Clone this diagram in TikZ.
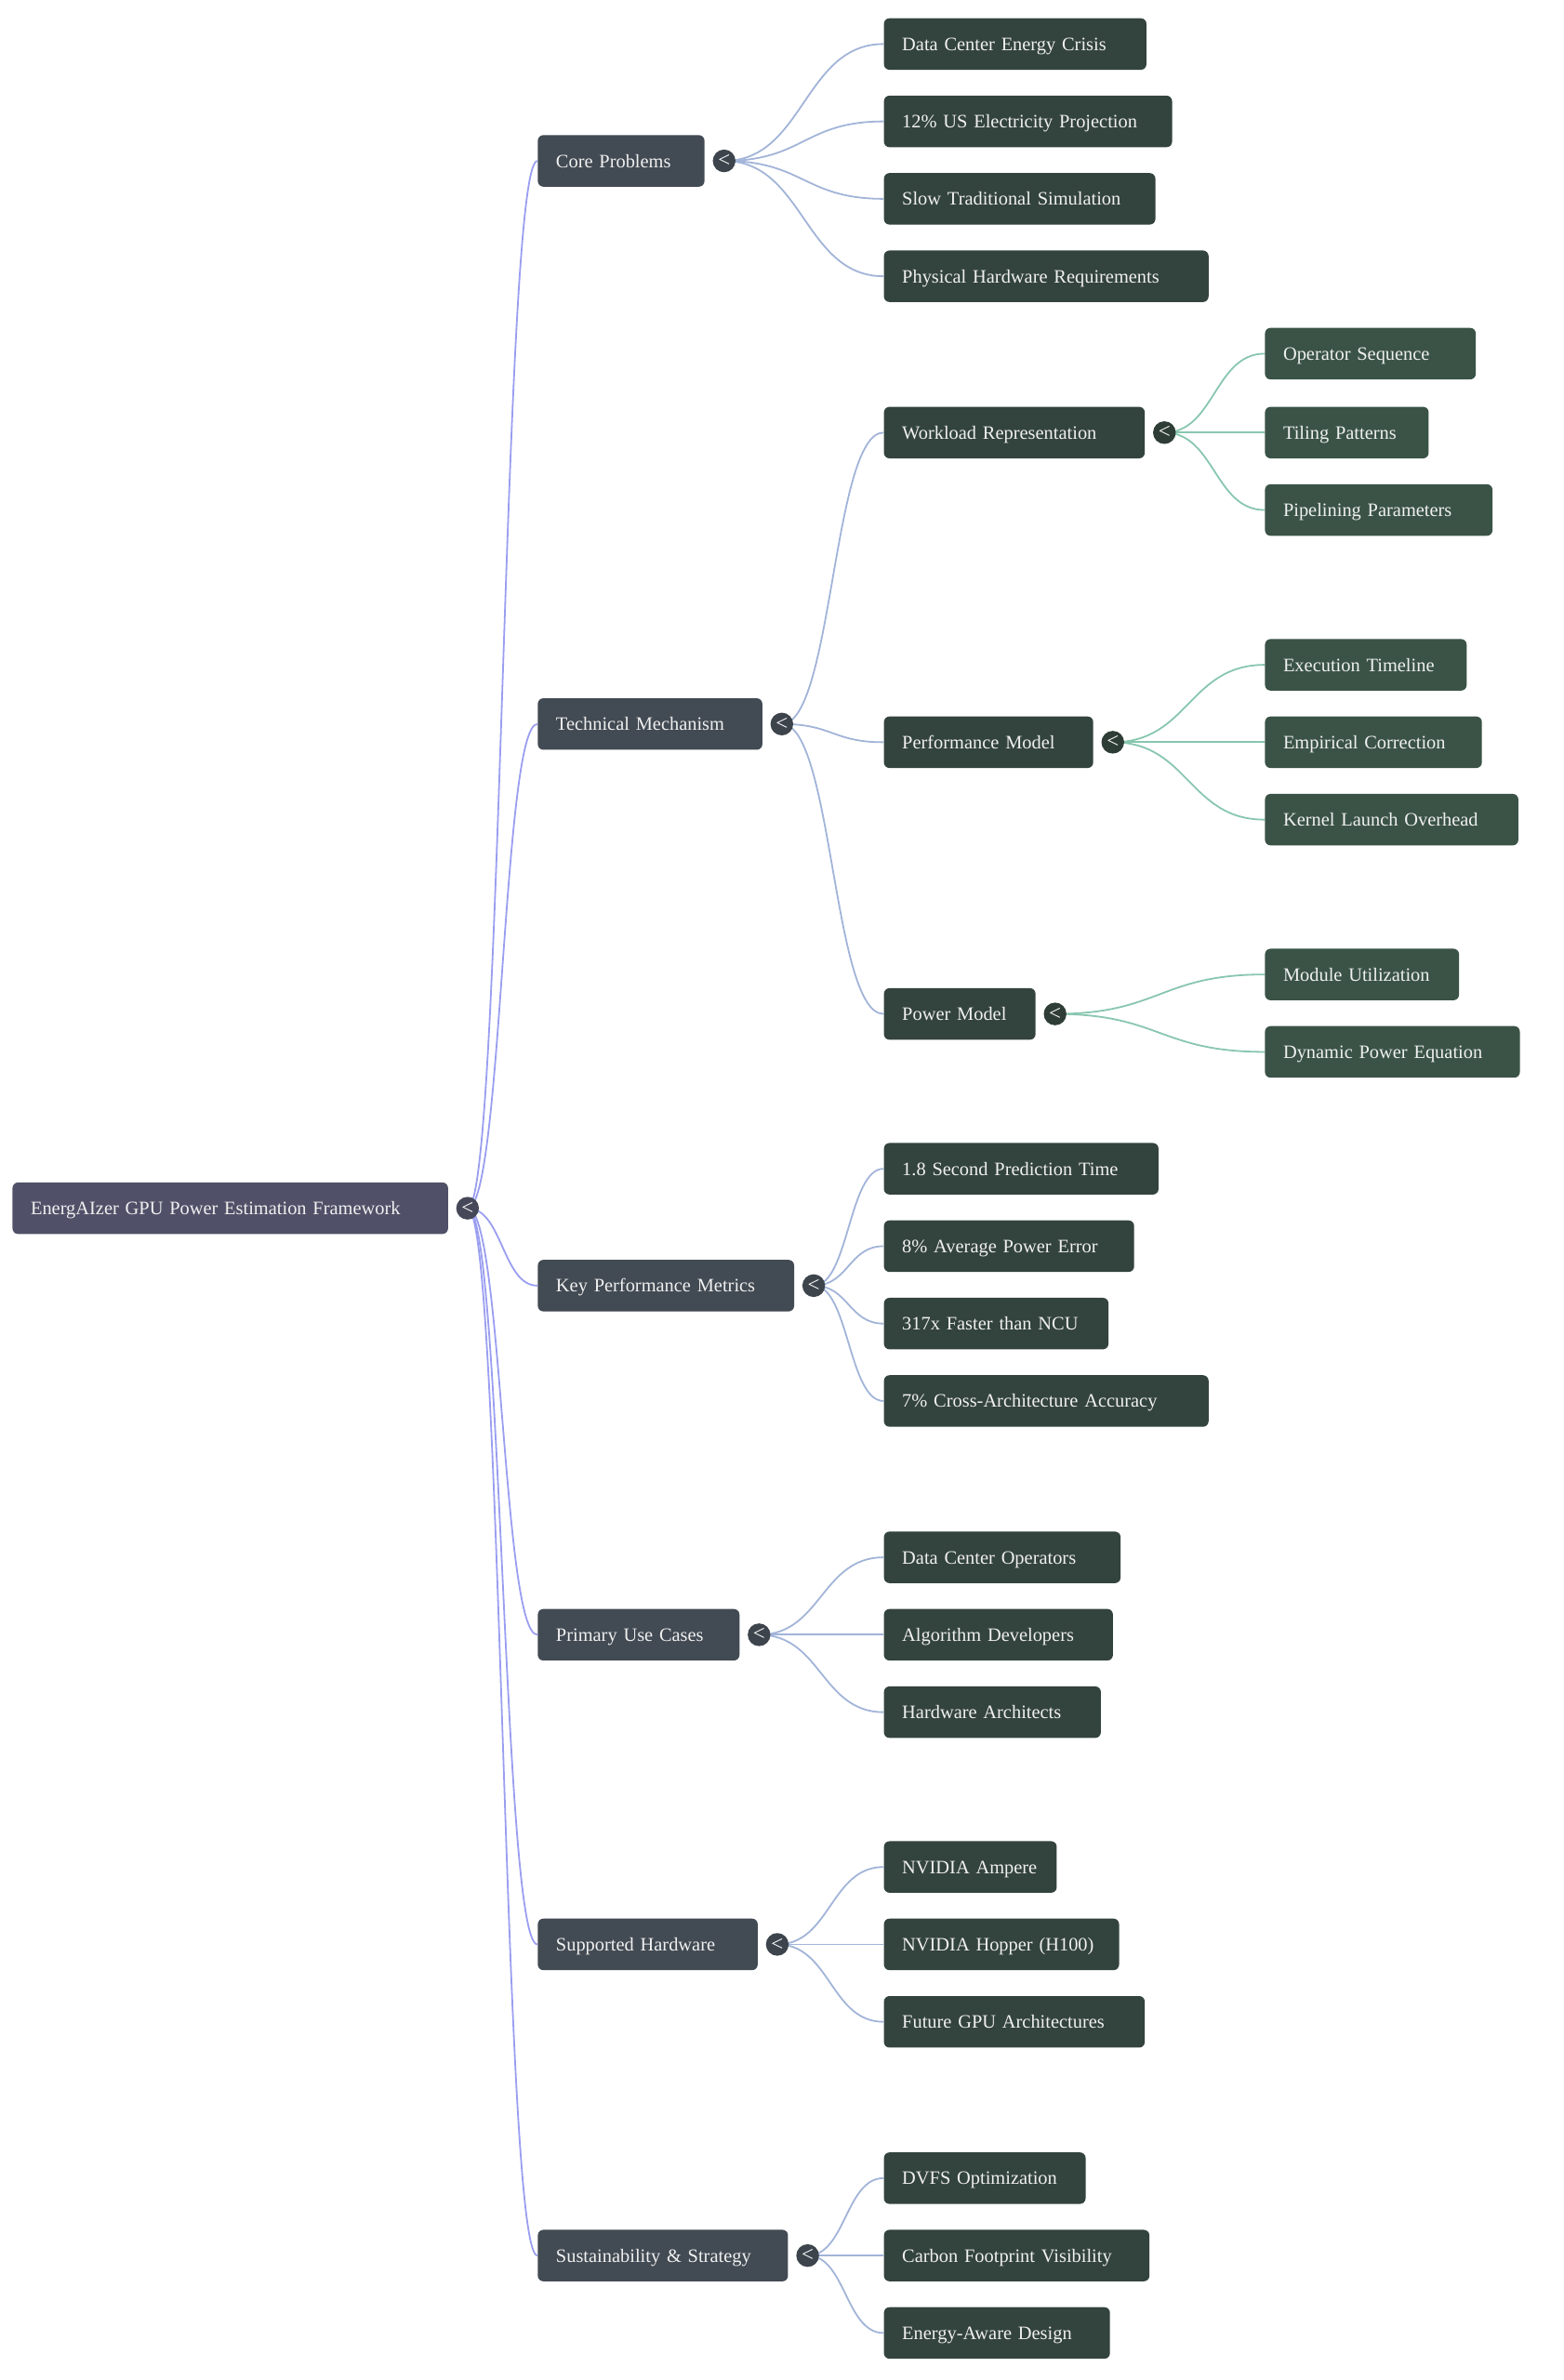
\documentclass[tikz,border=0pt]{standalone}
\usepackage{fontspec}
\setmainfont{Liberation Serif}
\usetikzlibrary{backgrounds,calc}

\definecolor{rootfill}{HTML}{505168}
\definecolor{topicfill}{HTML}{424A53}
\definecolor{subfill}{HTML}{33433D}
\definecolor{leaffill}{HTML}{3A5346}
\definecolor{roottog}{HTML}{454858}
\definecolor{topictog}{HTML}{3D444C}
\definecolor{subtog}{HTML}{2F3D37}
\definecolor{rootedge}{HTML}{9A9EF0}
\definecolor{topicedge}{HTML}{A2B4D8}
\definecolor{subedge}{HTML}{88C6AF}

\tikzset{
  box/.style={anchor=west, rounded corners=3pt, text=white!94!black,
    font=\fontsize{10.2}{12}\selectfont, align=left,
    text height=8.5pt, text depth=1.5pt,
    inner xsep=9.8pt, inner ysep=0pt, minimum height=27.7pt},
  rootbox/.style={box, fill=rootfill},
  topic/.style={box, fill=topicfill},
  sub/.style={box, fill=subfill},
  leaf/.style={box, fill=leaffill},
  toggle/.style={circle, inner sep=0pt, minimum size=12.2pt, text=white,
    font=\fontsize{11.5}{11.5}\selectfont},
  branch/.style={to path={let \p1=(\tikztostart), \p2=(\tikztotarget) in
    .. controls ({(\x1+\x2)/2},\y1) and ({(\x1+\x2)/2},\y2) .. (\tikztotarget)}},
  rootlink/.style={branch, draw=rootedge, line width=0.9pt},
  topiclink/.style={branch, draw=topicedge, line width=0.9pt},
  sublink/.style={branch, draw=subedge, line width=0.9pt}
}

\begin{document}
\begin{tikzpicture}[x=0.816pt, y=-0.816pt]
  \useasboundingbox (0,0) rectangle (1030,1568);

  % root
  \node[rootbox, text width=214.5pt] (root) at (8,796) {EnergAIzer GPU Power Estimation Framework};
  \node[toggle, fill=roottog] (t0) at (308,796) {<};

  % first level
  \node[topic, text width=70pt] (cp) at (354,106) {Core Problems};
  \node[topic, text width=101.1pt] (tm) at (354,477) {Technical Mechanism};
  \node[topic, text width=118.2pt] (kpm) at (354,847) {Key Performance Metrics};
  \node[topic, text width=88.8pt] (puc) at (354,1077) {Primary Use Cases};
  \node[topic, text width=98.6pt] (sh) at (354,1281) {Supported Hardware};
  \node[topic, text width=114.9pt] (ss) at (354,1486) {Sustainability \& Strategy};
  \node[toggle, fill=topictog] (tcp) at (477,106) {<};
  \node[toggle, fill=topictog] (ttm) at (515,477) {<};
  \node[toggle, fill=topictog] (tkpm) at (536,847) {<};
  \node[toggle, fill=topictog] (tpuc) at (500,1077) {<};
  \node[toggle, fill=topictog] (tsh) at (512,1281) {<};
  \node[toggle, fill=topictog] (tss) at (532,1486) {<};

  % second level
  \node[sub, text width=121.5pt] (dc) at (582,29) {Data Center Energy Crisis};
  \node[sub, text width=135.3pt] (us) at (582,80) {12\% US Electricity Projection};
  \node[sub, text width=126.3pt] (sts) at (582,131) {Slow Traditional Simulation};
  \node[sub, text width=154.9pt] (phr) at (582,182) {Physical Hardware Requirements};
  \node[sub, text width=120.6pt] (wr) at (582,285) {Workload Representation};
  \node[sub, text width=92.9pt] (pm) at (582,489) {Performance Model};
  \node[sub, text width=61.9pt] (pw) at (582,668) {Power Model};
  \node[sub, text width=128pt] (pt) at (582,770) {1.8 Second Prediction Time};
  \node[sub, text width=114.9pt] (ape) at (582,821) {8\% Average Power Error};
  \node[sub, text width=101.1pt] (ncu) at (582,872) {317x Faster than NCU};
  \node[sub, text width=154.9pt] (caa) at (582,923) {7\% Cross-Architecture Accuracy};
  \node[sub, text width=107.6pt] (dco) at (582,1026) {Data Center Operators};
  \node[sub, text width=103.5pt] (ad) at (582,1077) {Algorithm Developers};
  \node[sub, text width=97pt] (ha) at (582,1128) {Hardware Architects};
  \node[sub, text width=73.3pt] (amp) at (582,1230) {NVIDIA Ampere};
  \node[sub, text width=106.8pt] (hop) at (582,1281) {NVIDIA Hopper (H100)};
  \node[sub, text width=120.6pt] (fga) at (582,1332) {Future GPU Architectures};
  \node[sub, text width=88.8pt] (dvfs) at (582,1435) {DVFS Optimization};
  \node[sub, text width=123.1pt] (cfv) at (582,1486) {Carbon Footprint Visibility};
  \node[sub, text width=101.9pt] (ead) at (582,1537) {Energy-Aware Design};
  \node[toggle, fill=subtog] (twr) at (767,285) {<};
  \node[toggle, fill=subtog] (tpm) at (733,489) {<};
  \node[toggle, fill=subtog] (tpw) at (695,668) {<};

  % third level
  \node[leaf, text width=93.7pt] (os) at (833,233) {Operator Sequence};
  \node[leaf, text width=68.4pt] (tp) at (833,285) {Tiling Patterns};
  \node[leaf, text width=102.7pt] (pp) at (833,336) {Pipelining Parameters};
  \node[leaf, text width=88.8pt] (et) at (833,438) {Execution Timeline};
  \node[leaf, text width=97pt] (ec) at (833,489) {Empirical Correction};
  \node[leaf, text width=116.6pt] (klo) at (833,540) {Kernel Launch Overhead};
  \node[leaf, text width=84.7pt] (mu) at (833,642) {Module Utilization};
  \node[leaf, text width=117.4pt] (dpe) at (833,693) {Dynamic Power Equation};

  \begin{scope}[on background layer]
    \draw[rootlink] (t0.center) to (cp.west);
    \draw[rootlink] (t0.center) to (tm.west);
    \draw[rootlink] (t0.center) to (kpm.west);
    \draw[rootlink] (t0.center) to (puc.west);
    \draw[rootlink] (t0.center) to (sh.west);
    \draw[rootlink] (t0.center) to (ss.west);

    \draw[topiclink] (tcp.center) to (dc.west);
    \draw[topiclink] (tcp.center) to (us.west);
    \draw[topiclink] (tcp.center) to (sts.west);
    \draw[topiclink] (tcp.center) to (phr.west);
    \draw[topiclink] (ttm.center) to (wr.west);
    \draw[topiclink] (ttm.center) to (pm.west);
    \draw[topiclink] (ttm.center) to (pw.west);
    \draw[topiclink] (tkpm.center) to (pt.west);
    \draw[topiclink] (tkpm.center) to (ape.west);
    \draw[topiclink] (tkpm.center) to (ncu.west);
    \draw[topiclink] (tkpm.center) to (caa.west);
    \draw[topiclink] (tpuc.center) to (dco.west);
    \draw[topiclink] (tpuc.center) to (ad.west);
    \draw[topiclink] (tpuc.center) to (ha.west);
    \draw[topiclink] (tsh.center) to (amp.west);
    \draw[topiclink] (tsh.center) to (hop.west);
    \draw[topiclink] (tsh.center) to (fga.west);
    \draw[topiclink] (tss.center) to (dvfs.west);
    \draw[topiclink] (tss.center) to (cfv.west);
    \draw[topiclink] (tss.center) to (ead.west);

    \draw[sublink] (twr.center) to (os.west);
    \draw[sublink] (twr.center) to (tp.west);
    \draw[sublink] (twr.center) to (pp.west);
    \draw[sublink] (tpm.center) to (et.west);
    \draw[sublink] (tpm.center) to (ec.west);
    \draw[sublink] (tpm.center) to (klo.west);
    \draw[sublink] (tpw.center) to (mu.west);
    \draw[sublink] (tpw.center) to (dpe.west);
  \end{scope}
\end{tikzpicture}
\end{document}
